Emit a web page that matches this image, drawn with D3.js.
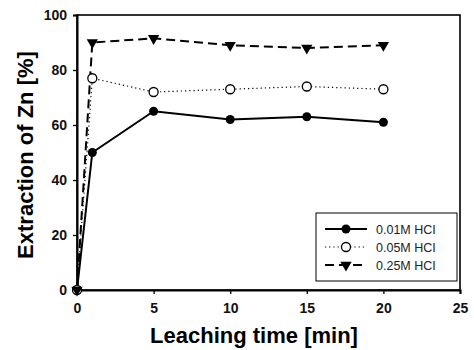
<!DOCTYPE html>
<html>
<head>
<meta charset="utf-8">
<script src="https://cdn.jsdelivr.net/npm/d3@7"></script>
<style>
  html, body { margin: 0; padding: 0; background: #fff; }
  svg { display: block; font-family: "Liberation Sans", Arial, sans-serif; }
</style>
</head>
<body>
<svg id="chart" width="474" height="350"></svg>
<script>
const times = [0, 1, 5, 10, 15, 20];
const hcl001 = [0, 50, 65, 62, 63, 61];
const hcl005 = [0, 77, 72, 73, 74, 73];
const hcl025 = [0, 90, 91.5, 89, 88, 89];
const seriesNames = ["0.01M HCl", "0.05M HCl", "0.25M HCl"];
const xTicks = [0, 5, 10, 15, 20, 25];
const yTicks = [0, 20, 40, 60, 80, 100];

const svg = d3.select("#chart");
const pL = 77, pR = 460, pT = 15, pB = 290;

const x = d3.scaleLinear().domain([0, 25]).range([pL, pR]);
const y = d3.scaleLinear().domain([0, 100]).range([pB, pT]);

// frame
svg.append("rect").attr("x", pL).attr("y", pT)
  .attr("width", pR - pL).attr("height", pB - pT)
  .attr("fill", "none").attr("stroke", "#000").attr("stroke-width", 1.6);

const xAxis = svg.append("g").attr("transform", `translate(0,${pB})`)
  .call(d3.axisBottom(x).tickValues(xTicks).tickSize(4).tickPadding(9));
const yAxis = svg.append("g").attr("transform", `translate(${pL},0)`)
  .call(d3.axisLeft(y).tickValues(yTicks).tickSize(4).tickPadding(6));
[xAxis, yAxis].forEach(g => {
  g.select(".domain").attr("stroke", "#000").attr("stroke-width", 2);
  g.selectAll(".tick line").attr("stroke", "#000").attr("stroke-width", 1.3);
  g.selectAll(".tick text").attr("fill", "#111")
    .style("font-size", "14px").style("font-weight", "bold")
    .style("font-family", "'Liberation Sans', Arial, sans-serif");
});

// axis titles
svg.append("text").attr("x", 254).attr("y", 343).attr("text-anchor", "middle")
  .style("font-size", "22px").style("font-weight", "bold").attr("fill", "#000")
  .text("Leaching time [min]");
svg.append("text").attr("transform", "translate(33,155) rotate(-90)")
  .attr("text-anchor", "middle")
  .style("font-size", "22px").style("font-weight", "bold").attr("fill", "#000")
  .text("Extraction of Zn [%]");

const data = [hcl001, hcl005, hcl025];
const styles = [
  { dash: null, width: 2, marker: "circleFilled" },
  { dash: "1.2,3", width: 1.2, marker: "circleOpen" },
  { dash: "9,5", width: 2, marker: "triangle" }
];

const line = d3.line().x(d => x(d[0])).y(d => y(d[1]));
const tri = d3.symbol().type(d3.symbolTriangle).size(55);

function drawMarker(g, type, cx, cy) {
  if (type === "circleFilled") {
    g.append("circle").attr("cx", cx).attr("cy", cy).attr("r", 4.5).attr("fill", "#000");
  } else if (type === "circleOpen") {
    g.append("circle").attr("cx", cx).attr("cy", cy).attr("r", 4.5)
      .attr("fill", "#fff").attr("stroke", "#000").attr("stroke-width", 1.3);
  } else {
    g.append("path").attr("d", tri())
      .attr("transform", `translate(${cx},${cy}) rotate(180)`).attr("fill", "#000");
  }
}

data.forEach((vals, i) => {
  const pts = times.map((t, j) => [t, vals[j]]);
  const s = styles[i];
  svg.append("path").datum(pts).attr("d", line)
    .attr("fill", "none").attr("stroke", "#000").attr("stroke-width", s.width)
    .attr("stroke-dasharray", s.dash);
});
data.forEach((vals, i) => {
  const g = svg.append("g");
  times.forEach((t, j) => drawMarker(g, styles[i].marker, x(t), y(vals[j])));
});

// legend
const lg = svg.append("g");
lg.append("rect").attr("x", 316).attr("y", 213).attr("width", 141).attr("height", 68)
  .attr("fill", "#fff").attr("stroke", "#000").attr("stroke-width", 1);
const rowY = [229, 247, 265];
seriesNames.forEach((name, i) => {
  const s = styles[i];
  lg.append("line").attr("x1", 325).attr("x2", 367).attr("y1", rowY[i]).attr("y2", rowY[i])
    .attr("stroke", "#000").attr("stroke-width", s.width).attr("stroke-dasharray", s.dash);
  drawMarker(lg, s.marker, 346, rowY[i]);
  lg.append("text").attr("x", 376).attr("y", rowY[i] + 4.5)
    .style("font-size", "12.5px").attr("fill", "#222").text(name.replace("HCl", "HCI"));
});
</script>
</body>
</html>
